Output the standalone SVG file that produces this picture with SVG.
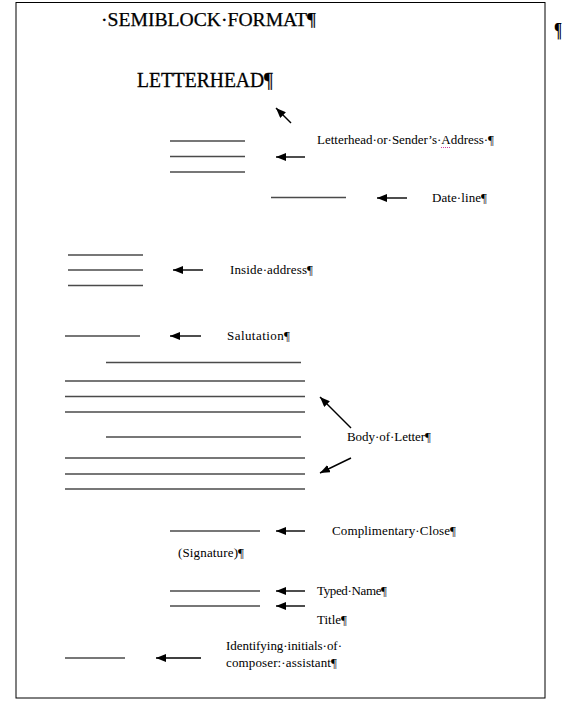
<svg xmlns="http://www.w3.org/2000/svg" width="567" height="723" viewBox="0 0 567 723">
  <style>
    .t { font-family: "Liberation Serif", "Times New Roman", "DejaVu Serif", serif; fill: #000; font-size: 13px; }
    .big { font-size: 18px; stroke: #000; stroke-width: 0.25; }
    .head { font-size: 20px; stroke: #000; stroke-width: 0.3; }
    .mark { font-size: 22px; font-weight: bold; }
    .ln { stroke: #4a4a4a; stroke-width: 1.3; fill: none; }
    .ar { stroke: #000; stroke-width: 1.4; fill: none; marker-end: url(#ah); }
  </style>
  <defs>
    <marker id="ah" markerUnits="userSpaceOnUse" markerWidth="11" markerHeight="8" refX="10" refY="4" orient="auto">
      <path d="M0,0 L10,4 L0,8 z" fill="#000"/>
    </marker>
  </defs>
  <rect x="0" y="0" width="567" height="723" fill="#fff"/>
  <g id="frame">
    <rect x="16" y="2.5" width="529" height="695.5" fill="none" stroke="#000" stroke-width="1"/>
  </g>
  <g id="titles">
    <text class="t big" x="101" y="26" textLength="215" lengthAdjust="spacingAndGlyphs">·SEMIBLOCK·FORMAT¶</text>
    <text class="t head" x="137" y="87" textLength="136" lengthAdjust="spacingAndGlyphs">LETTERHEAD¶</text>
    <text class="t mark" x="554" y="37" textLength="8" lengthAdjust="spacingAndGlyphs">¶</text>
  </g>
  <g id="letterhead-address">
    <line class="ln" x1="170" y1="141" x2="245" y2="141"/>
    <line class="ln" x1="170" y1="156.5" x2="245" y2="156.5"/>
    <line class="ln" x1="170" y1="172" x2="245" y2="172"/>
    <text class="t" x="317" y="144" textLength="177" lengthAdjust="spacing">Letterhead·or·Sender’s·Address·¶</text>
    <line x1="441" y1="147.5" x2="451" y2="147.5" stroke="#d040a0" stroke-width="1" stroke-dasharray="1,1"/>
  </g>
  <g id="dateline">
    <line class="ln" x1="271" y1="197.5" x2="346" y2="197.5"/>
    <text class="t" x="432" y="202" textLength="55" lengthAdjust="spacing">Date·line¶</text>
  </g>
  <g id="inside-address">
    <line class="ln" x1="68" y1="255" x2="143" y2="255"/>
    <line class="ln" x1="68" y1="270" x2="143" y2="270"/>
    <line class="ln" x1="68" y1="285.5" x2="143" y2="285.5"/>
    <text class="t" x="230" y="274" textLength="83" lengthAdjust="spacing">Inside·address¶</text>
  </g>
  <g id="salutation">
    <line class="ln" x1="65" y1="336" x2="140" y2="336"/>
    <text class="t" x="227" y="340" textLength="63" lengthAdjust="spacing">Salutation¶</text>
  </g>
  <g id="body">
    <line class="ln" x1="106" y1="362.5" x2="301" y2="362.5"/>
    <line class="ln" x1="65" y1="381" x2="305" y2="381"/>
    <line class="ln" x1="65" y1="396.5" x2="305" y2="396.5"/>
    <line class="ln" x1="65" y1="412" x2="305" y2="412"/>
    <line class="ln" x1="106" y1="437" x2="301" y2="437"/>
    <line class="ln" x1="65" y1="458" x2="305" y2="458"/>
    <line class="ln" x1="65" y1="474" x2="305" y2="474"/>
    <line class="ln" x1="65" y1="489" x2="305" y2="489"/>
    <text class="t" x="347" y="441" textLength="84" lengthAdjust="spacing">Body·of·Letter¶</text>
  </g>
  <g id="complimentary-close">
    <line class="ln" x1="170" y1="531" x2="260" y2="531"/>
    <text class="t" x="332" y="535" textLength="124" lengthAdjust="spacing">Complimentary·Close¶</text>
  </g>
  <g id="signature">
    <text class="t" x="178" y="557" textLength="66" lengthAdjust="spacing">(Signature)¶</text>
  </g>
  <g id="typed-name">
    <line class="ln" x1="170" y1="591" x2="260" y2="591"/>
    <text class="t" x="317" y="595" textLength="70" lengthAdjust="spacing">Typed·Name¶</text>
  </g>
  <g id="title">
    <line class="ln" x1="170" y1="606" x2="260" y2="606"/>
    <text class="t" x="317" y="624" textLength="30" lengthAdjust="spacing">Title¶</text>
  </g>
  <g id="initials">
    <line class="ln" x1="65" y1="658" x2="125" y2="658"/>
    <text class="t" x="226" y="650" textLength="116" lengthAdjust="spacing">Identifying·initials·of·</text>
    <text class="t" x="226" y="667" textLength="111" lengthAdjust="spacing">composer:·assistant¶</text>
  </g>
  <g id="connectors">
    <line class="ar" x1="291" y1="123" x2="276" y2="108"/>
    <line class="ar" x1="305" y1="157" x2="276" y2="157"/>
    <line class="ar" x1="407" y1="198" x2="377" y2="198"/>
    <line class="ar" x1="203" y1="270" x2="173" y2="270"/>
    <line class="ar" x1="201" y1="336" x2="170" y2="336"/>
    <line class="ar" x1="351" y1="428" x2="320" y2="397"/>
    <line class="ar" x1="351" y1="458" x2="320" y2="473"/>
    <line class="ar" x1="305" y1="531" x2="276" y2="531"/>
    <line class="ar" x1="305" y1="591" x2="276" y2="591"/>
    <line class="ar" x1="305" y1="606" x2="276" y2="606"/>
    <line class="ar" x1="201" y1="658" x2="156" y2="658"/>
  </g>
</svg>
